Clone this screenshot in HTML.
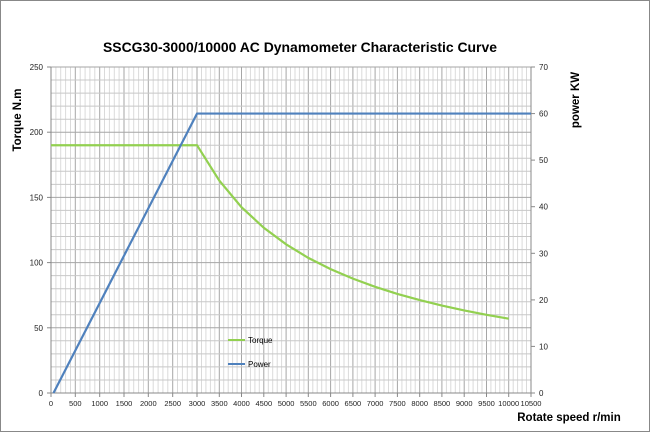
<!DOCTYPE html>
<html><head><meta charset="utf-8"><style>
html,body{margin:0;padding:0;background:#fff;}
svg{display:block;font-family:"Liberation Sans",sans-serif;}
</style></head><body>
<svg id="s" width="650" height="432" viewBox="0 0 650 432" xmlns="http://www.w3.org/2000/svg">
<rect x="0.5" y="0.5" width="649" height="431" fill="#fff" stroke="#888"/>
<g id="grid"></g>
<text x="300" y="52" font-size="14" font-weight="bold" text-anchor="middle" fill="#000" textLength="394" lengthAdjust="spacingAndGlyphs">SSCG30-3000/10000  AC Dynamometer Characteristic Curve</text>
<text transform="translate(21,120) rotate(-90)" font-size="11.5" font-weight="bold" text-anchor="middle">Torque N.m</text>
<text transform="translate(579,100) rotate(-90)" font-size="11.5" font-weight="bold" text-anchor="middle">power KW</text>
<text x="569" y="421" font-size="11.5" font-weight="bold" text-anchor="middle">Rotate speed r/min</text>
<polyline id="tq" fill="none" stroke="#92d050" stroke-width="2.2"/>
<polyline id="pw" fill="none" stroke="#4f81bd" stroke-width="2.2"/>
<line x1="228" y1="340" x2="245" y2="340" stroke="#92d050" stroke-width="2"/>
<text x="248" y="343" font-size="8">Torque</text>
<line x1="228" y1="364" x2="245" y2="364" stroke="#4f81bd" stroke-width="2"/>
<text x="248" y="367" font-size="8">Power</text>
</svg>
<script>
var g=document.getElementById('grid'),h='';
var L=51,R=531,T=67,B=393;
function X(n){return n<=3000? L+n/3000*146 : 197+(n-3000)/7500*(R-197);}
for(var n=0;n<=10500;n+=100){var x=X(n).toFixed(1);var maj=n%500==0;
h+='<line x1="'+x+'" y1="'+T+'" x2="'+x+'" y2="'+B+'" stroke="'+(maj?'#a6a6a6':'#dadada')+'" stroke-width="1"/>';
if(maj){h+='<line x1="'+x+'" y1="'+B+'" x2="'+x+'" y2="'+(B+4)+'" stroke="#888"/>';
var s=String(n);var tl=s.length>4?' textLength="21" lengthAdjust="spacingAndGlyphs"':'';
h+='<text x="'+x+'" y="'+(B+13)+'" font-size="7.5" text-anchor="middle" fill="#222"'+tl+'>'+s+'</text>';}}
for(var t=0;t<=250;t+=10){var y=(B-t*(B-T)/250).toFixed(1);
h+='<line x1="'+L+'" y1="'+y+'" x2="'+R+'" y2="'+y+'" stroke="'+(t%50==0?'#a6a6a6':'#c8c8c8')+'"/>';
if(t%50==0){h+='<line x1="'+(L-4)+'" y1="'+y+'" x2="'+L+'" y2="'+y+'" stroke="#888"/>';
h+='<text x="'+(L-8)+'" y="'+(+y+3)+'" font-size="8" text-anchor="end" fill="#222">'+t+'</text>';}}
for(var p=0;p<=70;p+=10){var y=(B-p*(B-T)/70).toFixed(1);
h+='<line x1="'+R+'" y1="'+y+'" x2="'+(R+4)+'" y2="'+y+'" stroke="#888"/>';
h+='<text x="'+(R+8)+'" y="'+(+y+3)+'" font-size="8" fill="#222">'+p+'</text>';}
h+='<line x1="'+L+'" y1="'+T+'" x2="'+L+'" y2="'+B+'" stroke="#888"/>';
h+='<line x1="'+R+'" y1="'+T+'" x2="'+R+'" y2="'+B+'" stroke="#888"/>';
h+='<line x1="'+L+'" y1="'+B+'" x2="'+R+'" y2="'+B+'" stroke="#888"/>';
g.innerHTML=h;
function yT(t){return B-t*(B-T)/250;}
var pts=[L+','+yT(190)];
for(var n=3000;n<=10000;n+=500){pts.push(X(n).toFixed(1)+','+yT(570000/n).toFixed(1));}
document.getElementById('tq').setAttribute('points',pts.join(' '));
var yP=B-60*(B-T)/70;
document.getElementById('pw').setAttribute('points','53.5,393 '+X(3000)+','+yP+' '+R+','+yP);
</script>
</body></html>
